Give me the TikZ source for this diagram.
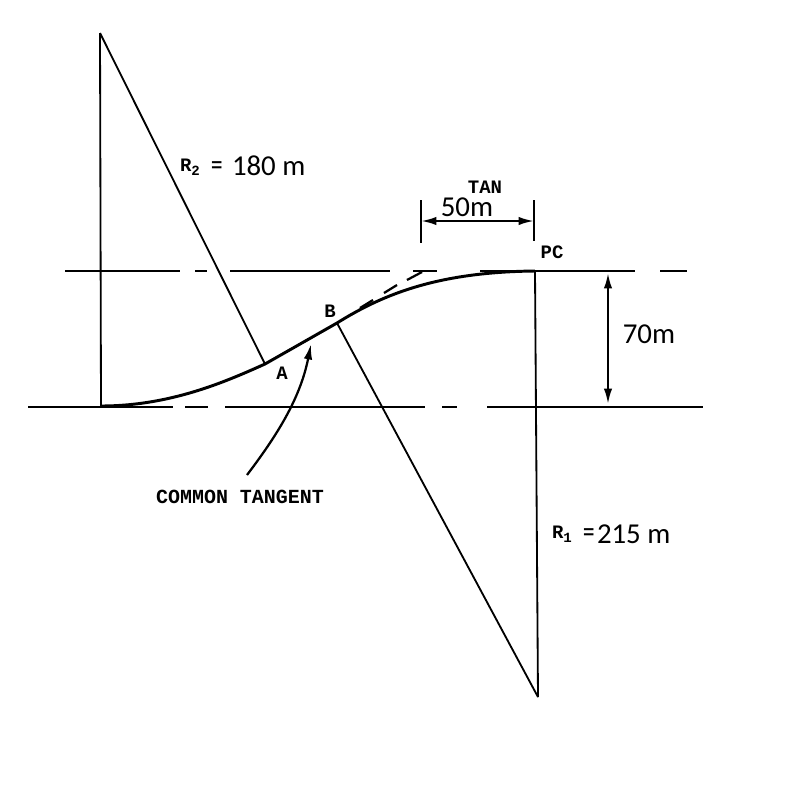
\documentclass[tikz,border=0pt]{standalone}
\usepackage{fontspec}
\setmonofont{Liberation Mono}
\newfontfamily\handfont{Carlito}
\usetikzlibrary{arrows.meta}
\newcommand{\subdigit}[1]{\raisebox{-2.5pt}{\fontsize{10}{10}\selectfont #1}}
\begin{document}
\begin{tikzpicture}[x=0.025cm,y=-0.025cm,line width=1.3pt,>={Latex[length=11pt,width=6pt]}]
	\tikzstyle{every node}=[inner sep=0pt, outer sep=0pt]
	\tikzset{typed/.style={font=\ttfamily\bfseries\fontsize{13.5}{15}\selectfont},
		typedbig/.style={font=\ttfamily\bfseries\fontsize{14.2}{16}\selectfont},
		hand/.style={font=\handfont\fontsize{20.5}{24}\selectfont},
		road/.style={line width=1.6pt}}
	\useasboundingbox (0,0) rectangle (804,790);
	% centres and tangent points
	\coordinate (O2) at (100,33);
	\coordinate (S2) at (101,406);
	\coordinate (A) at (265,364);
	\coordinate (B) at (337,323);
	\coordinate (PC) at (535,271);
	\coordinate (O1) at (538,697);
	% radii
	\draw (O2) -- (S2);
	\draw (O2) -- (A);
	\draw (PC) -- (O1);
	\draw (B) -- (O1);
	% curve
	\draw[line width=2.1pt] (S2) .. controls (170,406) and (225,382) .. (A) -- (B)
		.. controls (385,293) and (440,272) .. (PC);
	% upper line
	\foreach \xa/\xb in {65/180,195/207,230/390,413/437,480/635,660/687}
		\draw[road] (\xa,271) -- (\xb,271);
	% lower line
	\foreach \xa/\xb in {28/173,185/208,225/425,442/457,487/703}
		\draw[road] (\xa,407) -- (\xb,407);
	% tangent dashes
	\draw[road] (360,308) -- (373,300);
	\draw[road] (384,293) -- (397,285);
	\draw[road] (407,280) -- (422,272);
	% dimensions
	\coordinate (T1a) at (421,200);
	\coordinate (T1b) at (421,243);
	\coordinate (T2a) at (534,200);
	\coordinate (T2b) at (534,241);
	\draw[road] (T1a) -- (T1b);
	\draw[road] (T2a) -- (T2b);
	\coordinate (D1) at (421,221);
	\coordinate (D2) at (534,221);
	\draw[road,<->] (D1) -- (D2);
	\coordinate (H1) at (608,273);
	\coordinate (H2) at (608,404);
	\draw[road,<->] (H1) -- (H2);
	% common tangent arrow
	\coordinate (C1) at (247,475);
	\coordinate (C2) at (311,344);
	\draw[road,->] (C1) .. controls (275,438) and (300,400) .. (C2);
	% labels
	\node[typed] (tan) at (485,187) {TAN};
	\node[hand] (fifty) at (467,207) {50m};
	\node[typed] (pclabel) at (552,252) {PC};
	\node[hand] (seventy) at (649,334) {70m};
	\node[typedbig] (common) at (240,497) {COMMON TANGENT};
	\node[typed] (alabel) at (282,373) {A};
	\node[typed] (blabel) at (330,311) {B};
	\node[typed,anchor=west] (r2label) at (180,167) {R\subdigit{2} =};
	\node[hand,anchor=west] (r2val) at (232,166) {180 m};
	\node[typed,anchor=west] (r1label) at (552,534) {R\subdigit{1} =};
	\node[hand,anchor=west] (r1val) at (597,534) {215 m};
\end{tikzpicture}
\end{document}
